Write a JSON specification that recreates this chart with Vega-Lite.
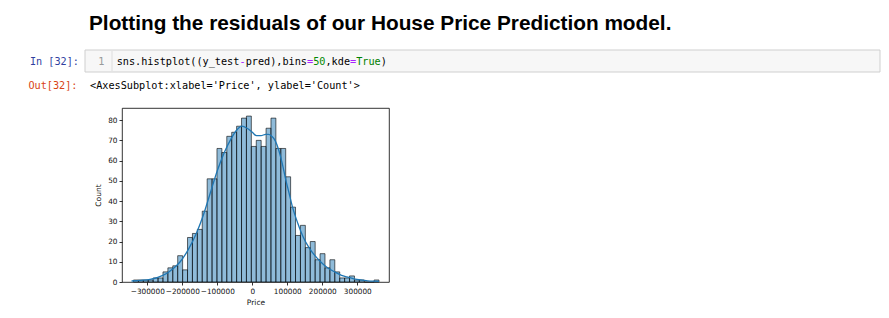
{
  "$schema": "https://vega.github.io/schema/vega-lite/v6.json",
  "width": 267,
  "height": 174,
  "autosize": {"type": "none"},
  "padding": {"left": 122, "top": 108, "right": 500, "bottom": 36},
  "background": "white",
  "config": {
    "view": {"stroke": "#000", "strokeWidth": 0.8},
    "axis": {
      "domain": false,
      "grid": false,
      "tickColor": "#000",
      "tickWidth": 0.8,
      "tickSize": 3,
      "labelFont": "DejaVu Sans",
      "labelFontSize": 7.3,
      "labelColor": "#111",
      "labelPadding": 2,
      "labelOverlap": false,
      "labelFlush": false,
      "labelBound": false,
      "titleFont": "DejaVu Sans",
      "titleFontSize": 7.5,
      "titleFontWeight": "normal",
      "titleColor": "#111"
    }
  },
  "layer": [
    {
      "data": {"values": [
        {"lo": -339400, "hi": -325372, "count": 1},
        {"lo": -325372, "hi": -311344, "count": 1},
        {"lo": -311344, "hi": -297316, "count": 1},
        {"lo": -297316, "hi": -283288, "count": 1},
        {"lo": -283288, "hi": -269260, "count": 2},
        {"lo": -269260, "hi": -255232, "count": 2},
        {"lo": -255232, "hi": -241204, "count": 5},
        {"lo": -241204, "hi": -227176, "count": 7},
        {"lo": -227176, "hi": -213148, "count": 8},
        {"lo": -213148, "hi": -199120, "count": 13},
        {"lo": -199120, "hi": -185092, "count": 6},
        {"lo": -185092, "hi": -171064, "count": 22},
        {"lo": -171064, "hi": -157036, "count": 24},
        {"lo": -157036, "hi": -143008, "count": 26},
        {"lo": -143008, "hi": -128980, "count": 35},
        {"lo": -128980, "hi": -114952, "count": 51},
        {"lo": -114952, "hi": -100924, "count": 51},
        {"lo": -100924, "hi": -86896, "count": 66},
        {"lo": -86896, "hi": -72868, "count": 64},
        {"lo": -72868, "hi": -58840, "count": 72},
        {"lo": -58840, "hi": -44812, "count": 74},
        {"lo": -44812, "hi": -30784, "count": 77},
        {"lo": -30784, "hi": -16756, "count": 81},
        {"lo": -16756, "hi": -2728, "count": 82},
        {"lo": -2728, "hi": 11300, "count": 67},
        {"lo": 11300, "hi": 25328, "count": 70},
        {"lo": 25328, "hi": 39356, "count": 67},
        {"lo": 39356, "hi": 53384, "count": 76},
        {"lo": 53384, "hi": 67412, "count": 81},
        {"lo": 67412, "hi": 81440, "count": 66},
        {"lo": 81440, "hi": 95468, "count": 66},
        {"lo": 95468, "hi": 109496, "count": 52},
        {"lo": 109496, "hi": 123524, "count": 37},
        {"lo": 123524, "hi": 137552, "count": 23},
        {"lo": 137552, "hi": 151580, "count": 28},
        {"lo": 151580, "hi": 165608, "count": 17},
        {"lo": 165608, "hi": 179636, "count": 20},
        {"lo": 179636, "hi": 193664, "count": 11},
        {"lo": 193664, "hi": 207692, "count": 14},
        {"lo": 207692, "hi": 221720, "count": 7},
        {"lo": 221720, "hi": 235748, "count": 11},
        {"lo": 235748, "hi": 249776, "count": 5},
        {"lo": 249776, "hi": 263804, "count": 2},
        {"lo": 263804, "hi": 277832, "count": 2},
        {"lo": 277832, "hi": 291860, "count": 3},
        {"lo": 291860, "hi": 305888, "count": 1},
        {"lo": 305888, "hi": 319916, "count": 1},
        {"lo": 319916, "hi": 333944, "count": 0},
        {"lo": 333944, "hi": 347972, "count": 0},
        {"lo": 347972, "hi": 362000, "count": 1}
      ]},
      "mark": {"type": "rect", "fill": "#1f77b4", "fillOpacity": 0.5, "stroke": "#000", "strokeOpacity": 0.85, "strokeWidth": 0.7},
      "encoding": {
        "x": {"field": "lo", "type": "quantitative",
              "scale": {"domain": [-372300, 390600], "nice": false, "zero": false},
              "axis": {"title": "Price", "values": [-300000, -200000, -100000, 0, 100000, 200000, 300000], "format": "d", "titlePadding": 4}},
        "x2": {"field": "hi"},
        "y": {"field": "count", "type": "quantitative",
              "scale": {"domain": [0, 86], "nice": false, "zero": true},
              "axis": {"title": "Count", "values": [0, 10, 20, 30, 40, 50, 60, 70, 80], "titlePadding": 5}},
        "y2": {"datum": 0}
      }
    },
    {
      "data": {"values": [
        {"x": -345000, "k": 0.5},
        {"x": -320000, "k": 0.8},
        {"x": -292000, "k": 1.3},
        {"x": -270000, "k": 2.3},
        {"x": -245000, "k": 4.2},
        {"x": -225000, "k": 6.8},
        {"x": -206000, "k": 10},
        {"x": -183000, "k": 16},
        {"x": -160000, "k": 24},
        {"x": -140000, "k": 33},
        {"x": -120000, "k": 44},
        {"x": -100000, "k": 55},
        {"x": -80000, "k": 64},
        {"x": -60000, "k": 71},
        {"x": -45000, "k": 75},
        {"x": -30000, "k": 77},
        {"x": -15000, "k": 76},
        {"x": 0, "k": 74},
        {"x": 12000, "k": 72.3},
        {"x": 25000, "k": 72.3},
        {"x": 38000, "k": 73},
        {"x": 46000, "k": 73},
        {"x": 55000, "k": 72.2},
        {"x": 65000, "k": 70},
        {"x": 75000, "k": 65.5},
        {"x": 85000, "k": 59},
        {"x": 95000, "k": 51},
        {"x": 105000, "k": 44},
        {"x": 115000, "k": 37},
        {"x": 130000, "k": 29},
        {"x": 146000, "k": 22},
        {"x": 162000, "k": 17},
        {"x": 179000, "k": 13},
        {"x": 195000, "k": 10},
        {"x": 212000, "k": 7.4},
        {"x": 235000, "k": 5},
        {"x": 255000, "k": 3.3},
        {"x": 270000, "k": 2.5},
        {"x": 290000, "k": 1.6},
        {"x": 310000, "k": 1.0},
        {"x": 330000, "k": 0.6},
        {"x": 350000, "k": 0.4},
        {"x": 362000, "k": 0.3}
      ]},
      "mark": {"type": "line", "color": "#1f77b4", "strokeWidth": 1.3, "interpolate": "monotone"},
      "encoding": {
        "x": {"field": "x", "type": "quantitative", "scale": {"domain": [-372300, 390600], "nice": false, "zero": false}, "axis": {"title": "Price", "values": [-300000, -200000, -100000, 0, 100000, 200000, 300000], "format": "d", "titlePadding": 4}},
        "y": {"field": "k", "type": "quantitative", "scale": {"domain": [0, 86], "nice": false, "zero": true}, "axis": {"title": "Count", "values": [0, 10, 20, 30, 40, 50, 60, 70, 80], "titlePadding": 5}}
      }
    },
    {
      "data": {"values": [{"t": "Plotting the residuals of our House Price Prediction model."}]},
      "mark": {"type": "text", "font": "Liberation Sans", "fontSize": 20.8, "fontWeight": "bold", "color": "#000", "align": "left", "baseline": "alphabetic"},
      "encoding": {"text": {"field": "t"}, "x": {"value": -33}, "y": {"value": -78}}
    },
    {
      "data": {"values": [{}]},
      "mark": {"type": "rect", "fill": "#f7f7f7", "stroke": "#cfcfcf", "strokeWidth": 1},
      "encoding": {"x": {"value": -37}, "x2": {"value": 758}, "y": {"value": -58}, "y2": {"value": -36}}
    },
    {
      "data": {"values": [{}]},
      "mark": {"type": "rule", "color": "#dddddd", "strokeWidth": 1},
      "encoding": {"x": {"value": -10}, "y": {"value": -57}, "y2": {"value": -37}}
    },
    {
      "data": {"values": [{"t": "In [32]:"}]},
      "mark": {"type": "text", "font": "DejaVu Sans Mono", "fontSize": 10.2, "color": "#303F9F", "align": "right", "baseline": "alphabetic"},
      "encoding": {"text": {"field": "t"}, "x": {"value": -43}, "y": {"value": -43}}
    },
    {
      "data": {"values": [{"t": "1"}]},
      "mark": {"type": "text", "font": "DejaVu Sans Mono", "fontSize": 10.2, "color": "#999999", "align": "right", "baseline": "alphabetic"},
      "encoding": {"text": {"field": "t"}, "x": {"value": -17.7}, "y": {"value": -43}}
    },
    {
      "data": {"values": [{"t": "sns.histplot((y_test"}]},
      "mark": {"type": "text", "font": "DejaVu Sans Mono", "fontSize": 10.2, "color": "#000", "align": "left", "baseline": "alphabetic"},
      "encoding": {"text": {"field": "t"}, "x": {"value": -5.3}, "y": {"value": -43}}
    },
    {
      "data": {"values": [{"t": "-"}]},
      "mark": {"type": "text", "font": "DejaVu Sans Mono", "fontSize": 10.2, "color": "#AA22FF", "align": "left", "baseline": "alphabetic"},
      "encoding": {"text": {"field": "t"}, "x": {"value": 117.52}, "y": {"value": -43}}
    },
    {
      "data": {"values": [{"t": "pred),bins"}]},
      "mark": {"type": "text", "font": "DejaVu Sans Mono", "fontSize": 10.2, "color": "#000", "align": "left", "baseline": "alphabetic"},
      "encoding": {"text": {"field": "t"}, "x": {"value": 123.66}, "y": {"value": -43}}
    },
    {
      "data": {"values": [{"t": "="}]},
      "mark": {"type": "text", "font": "DejaVu Sans Mono", "fontSize": 10.2, "color": "#AA22FF", "align": "left", "baseline": "alphabetic"},
      "encoding": {"text": {"field": "t"}, "x": {"value": 185.07}, "y": {"value": -43}}
    },
    {
      "data": {"values": [{"t": "50"}]},
      "mark": {"type": "text", "font": "DejaVu Sans Mono", "fontSize": 10.2, "color": "#008800", "align": "left", "baseline": "alphabetic"},
      "encoding": {"text": {"field": "t"}, "x": {"value": 191.21}, "y": {"value": -43}}
    },
    {
      "data": {"values": [{"t": ",kde"}]},
      "mark": {"type": "text", "font": "DejaVu Sans Mono", "fontSize": 10.2, "color": "#000", "align": "left", "baseline": "alphabetic"},
      "encoding": {"text": {"field": "t"}, "x": {"value": 203.49}, "y": {"value": -43}}
    },
    {
      "data": {"values": [{"t": "="}]},
      "mark": {"type": "text", "font": "DejaVu Sans Mono", "fontSize": 10.2, "color": "#AA22FF", "align": "left", "baseline": "alphabetic"},
      "encoding": {"text": {"field": "t"}, "x": {"value": 228.06}, "y": {"value": -43}}
    },
    {
      "data": {"values": [{"t": "True"}]},
      "mark": {"type": "text", "font": "DejaVu Sans Mono", "fontSize": 10.2, "color": "#008000", "align": "left", "baseline": "alphabetic"},
      "encoding": {"text": {"field": "t"}, "x": {"value": 234.2}, "y": {"value": -43}}
    },
    {
      "data": {"values": [{"t": ")"}]},
      "mark": {"type": "text", "font": "DejaVu Sans Mono", "fontSize": 10.2, "color": "#000", "align": "left", "baseline": "alphabetic"},
      "encoding": {"text": {"field": "t"}, "x": {"value": 258.76}, "y": {"value": -43}}
    },
    {
      "data": {"values": [{"t": "Out[32]:"}]},
      "mark": {"type": "text", "font": "DejaVu Sans Mono", "fontSize": 10.2, "color": "#D84315", "align": "right", "baseline": "alphabetic"},
      "encoding": {"text": {"field": "t"}, "x": {"value": -44.5}, "y": {"value": -19}}
    },
    {
      "data": {"values": [{"t": "<AxesSubplot:xlabel='Price', ylabel='Count'>"}]},
      "mark": {"type": "text", "font": "DejaVu Sans Mono", "fontSize": 10.2, "color": "#000", "align": "left", "baseline": "alphabetic"},
      "encoding": {"text": {"field": "t"}, "x": {"value": -32}, "y": {"value": -19}}
    }
  ]
}
